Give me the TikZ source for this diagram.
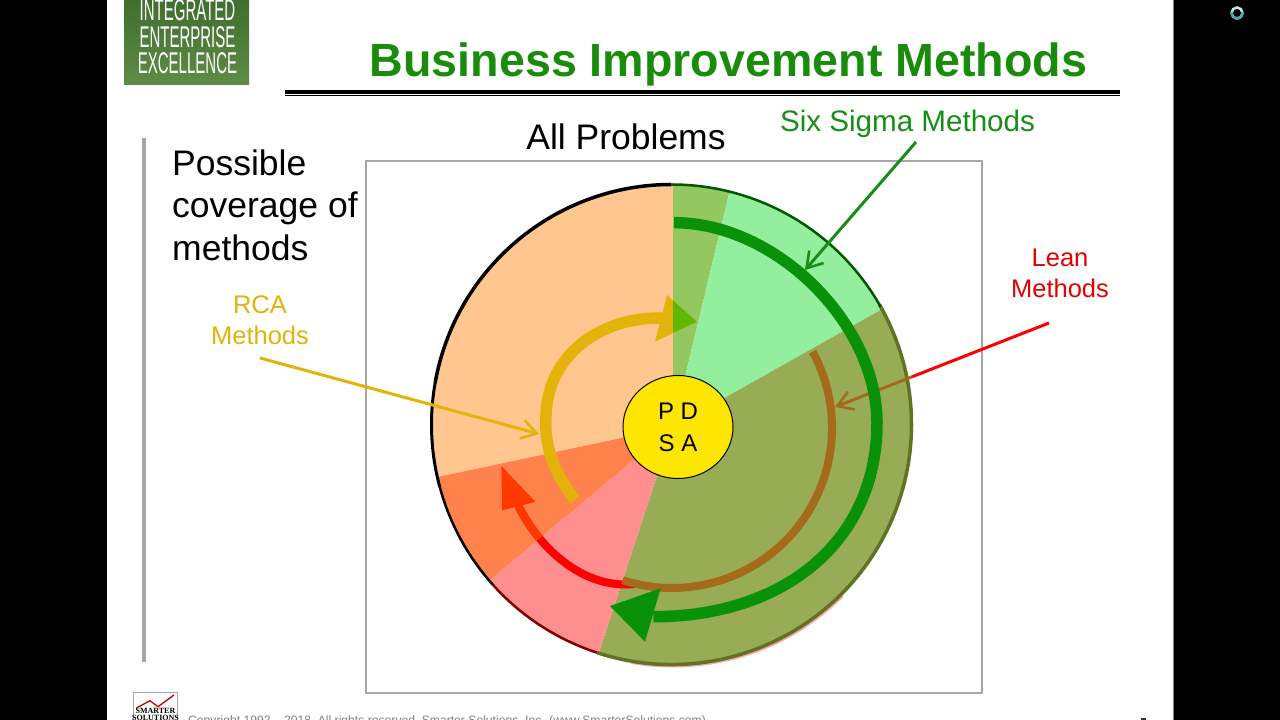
\documentclass[tikz,border=0pt]{standalone}
\usepackage{fontspec}
\setmainfont{Liberation Sans}
\newfontfamily\footserif{Liberation Serif}
\usetikzlibrary{positioning,arrows.meta,shapes.geometric}
\definecolor{titlegreen}{HTML}{1A8C0C}
\definecolor{sigmagreen}{HTML}{099109}
\definecolor{leadergreen}{HTML}{178F17}
\definecolor{rcayellow}{HTML}{E3B30A}
\definecolor{leanbrown}{HTML}{A56A1C}
\definecolor{rcaorange}{HTML}{FFC78F}
\definecolor{mixgreen}{HTML}{92C85F}
\definecolor{lightgreen}{HTML}{93EE9D}
\definecolor{olive}{HTML}{98AC55}
\definecolor{rimolive}{HTML}{5F7322}
\definecolor{pinkred}{HTML}{FF8F8F}
\definecolor{mixorange}{HTML}{FF824D}
\definecolor{framegray}{HTML}{A6A6A6}
\definecolor{logodark}{HTML}{3F6E2E}
\definecolor{logolight}{HTML}{5F8C46}
\newcommand\sector[3]{%
\fill[#1] (673,293) -- ++(#2:300) arc (#2:#3:300) -- cycle;
}
\newcommand\sectorclip[2]{%
\clip (673,293) -- ++(#1:300) arc (#1:#2:300) -- cycle;
}
\newcommand\rim[4]{%
\draw[#1,line width=#2] ([shift={(#3:240)}]disc) arc (#3:#4:240);
}
\tikzset{
	label/.style={font=\fontsize{#1}{#1}\selectfont},
	thinarrow/.style={line width=3pt,-{Straight Barb[length=15pt,width=19pt,line width=2.6pt]}},
	textblock/.style={align=#1,inner sep=0pt},
}
\begin{document}
\begin{tikzpicture}[x=1pt,y=1pt]
	%% page
	\clip (0,0) rectangle (1280,720);
	\fill[black] (0,0) rectangle (1280,720);
	\fill[white] (107,0) rectangle (1173,720);
	\fill[gray] (1173,0) rectangle (1174,720);

	% spinner
	\coordinate (spin) at (1237,707);
	\draw[white!80!teal,line width=2.5pt] (spin) circle (5.5);
	\draw[teal!70!white,line width=2.5pt] ([shift={(170:5.5)}]spin) arc (170:370:5.5);

	% logo top left
	\shade[shading angle=-20,top color=logodark,bottom color=logolight] (124,635) rectangle (249,720);
	\node[textblock=center,text=white,xscale=0.5,font=\fontsize{30}{26.5}\selectfont] (logo) at (187.5,683) {INTEGRATED\\ENTERPRISE\\EXCELLENCE};

	% title
	\node[text=titlegreen,anchor=base,font=\bfseries\fontsize{46.6}{46.6}\selectfont] (title) at (728.5,643) {Business Improvement Methods};
	\fill[black] (285,626) rectangle (1120,630);
	\fill[black] (285,623.5) rectangle (1120,624.7);

	% side bar and frame
	\fill[framegray] (141.5,58) rectangle (146,582);
	\draw[framegray,line width=2.5pt] (366,27) rectangle (982,559);

	\node[label=35.5] (allprob) at (626,583) {All Problems};
	\node[textblock=left,anchor=north west,font=\fontsize{35.5}{42.5}\selectfont] (possible) at (172,570.5) {Possible\\coverage of\\methods};
	\node[label=29.6,text=leadergreen] (sixsigma) at (907.5,596) {Six Sigma Methods};
	\node[textblock=center,text=red!90!black,font=\fontsize{25.5}{31.5}\selectfont] (lean) at (1060,446.5) {Lean\\Methods};
	\node[textblock=center,text=rcayellow,font=\fontsize{25.5}{31.5}\selectfont] (rca) at (260,400) {RCA\\Methods};

	%% the disc
	\def\angTop{90}
	\def\angMix{76.5}
	\def\angLean{29.4}
	\def\angPink{-108.2}
	\def\angOrange{219.9}
	\def\angRed{192}

	\coordinate (disc) at (671.5,295.5);
	\draw[pinkred!80!white,line width=2pt] ([shift={(-45:240)}]673,293.5) arc (-45:-100:240);

	\begin{scope}
		\clip (disc) circle (240);
		\sector{rcaorange}{\angRed}{\angTop}
		\sector{mixgreen}{\angTop}{\angMix}
		\sector{lightgreen}{\angMix}{\angLean}
		\sector{olive}{\angLean}{\angPink}
		\sector{pinkred}{251.8}{\angOrange}
		\sector{mixorange}{\angOrange}{\angRed}
	\end{scope}

	\rim{black}{3.5pt}{90}{170}
	\rim{black}{3pt}{170}{195}
	\rim{black}{2.5pt}{195}{222}
	\rim{red!50!black}{2.5pt}{222}{252}
	\rim{rimolive}{3.5pt}{252}{390}
	\rim{green!35!black}{2.5pt}{29.4}{90}

	%% rca arc
	\coordinate (rcastart) at (575,220);
	\coordinate (rcaend) at (662,402);
	\coordinate (rcatip) at (696.7,398.3);
	\def\rcaarc{(rcastart) .. controls (553,248) and (544,275) .. (546,305) .. controls (548,365) and (600,403) .. (rcaend)}
	\def\rcahead{(rcatip) -- (667,425) -- (655,378.3) -- cycle}
	\draw[rcayellow,line width=11.5pt] \rcaarc;
	\fill[rcayellow] \rcahead;
	\begin{scope}
		\sectorclip{\angTop}{\angMix}
		\fill[green!50!rcayellow!85!black] \rcahead;
	\end{scope}

	%% lean arc, red then brown
	\coordinate (leancen) at (672,292);
	\coordinate (leanstart) at ([shift={(28.5:160)}]leancen);
	\coordinate (redlow) at ([shift={(-103:160)}]leancen);
	\coordinate (redend) at (518,215);
	\def\redarc{(redlow) .. controls (585,130) and (540,170) .. (redend)}
	\def\redhead{(501.7,253.3) -- (502.3,210) -- (535,218.3) -- cycle}
	\draw[red,line width=8pt] \redarc;
	\fill[red] \redhead;
	\begin{scope}
		\sectorclip{\angOrange}{\angRed}
		\draw[orange!45!red,line width=8pt] \redarc;
		\fill[orange!45!red] \redhead;
	\end{scope}
	\begin{scope}
		\sectorclip{\angLean}{\angPink}
		\draw[leanbrown,line width=8pt] (leanstart) arc (28.5:-115:160);
	\end{scope}

	%% leaders
	\coordinate (leanfrom) at (1049,397);
	\coordinate (leanrim) at (912,343.2);
	\coordinate (leantip) at (835,313);
	\coordinate (sigmafrom) at (916,578);
	\coordinate (sigmatip) at (805,450);
	\coordinate (rcafrom) at (260,362);
	\coordinate (rcatarget) at (539,286);
	\draw[red,line width=3pt] (leanfrom) -- (leanrim);
	\draw[thinarrow,leanbrown] (leanrim) -- (leantip);
	\draw[thinarrow,rcayellow] (rcafrom) -- (rcatarget);

	%% sigma arc
	\coordinate (sigmastart) at (674,497.3);
	\coordinate (sigmaright) at (877,297);
	\coordinate (sigmaend) at (653.3,103.3);
	\draw[sigmagreen,line width=11.5pt] (sigmastart) .. controls (775.5,497.3) and (877,397) .. (sigmaright) .. controls (877,181) and (787,103.3) .. (sigmaend);
	\fill[sigmagreen] (610,114) -- (660.7,131.7) -- (645,78.3) -- cycle;
	\draw[thinarrow,leadergreen] (sigmafrom) -- (sigmatip);

	%% pdsa
	\node[ellipse,draw=black,fill=yellow!88!orange,line width=1pt,minimum width=110pt,minimum height=103pt,inner sep=0pt,textblock=center,font=\fontsize{24}{32}\selectfont] (pdsa) at (678,293) {P D\\S A};

	%% footer
	\draw[gray!70,line width=0.8pt,fill=white] (133.5,-5) rectangle (177.5,27.5);
	\draw[red!75!black,line width=1.3pt] (136.4,12) -- (150,19.3) -- (158,13.3) -- (174,25);
	\node[font=\footserif\bfseries\fontsize{8}{6.5}\selectfont,textblock=center,anchor=north] (footname) at (155.5,11.5) {SMARTER\\SOLUTIONS};
	\node[anchor=west,text=gray,font=\fontsize{12.15}{12}\selectfont,inner sep=0pt] (copyright) at (188,-1) {Copyright 1992 – 2018, All rights reserved, Smarter Solutions, Inc. (www.SmarterSolutions.com)};
	\fill[black!80] (1141,0) rectangle (1146,1.5);
\end{tikzpicture}
\end{document}
